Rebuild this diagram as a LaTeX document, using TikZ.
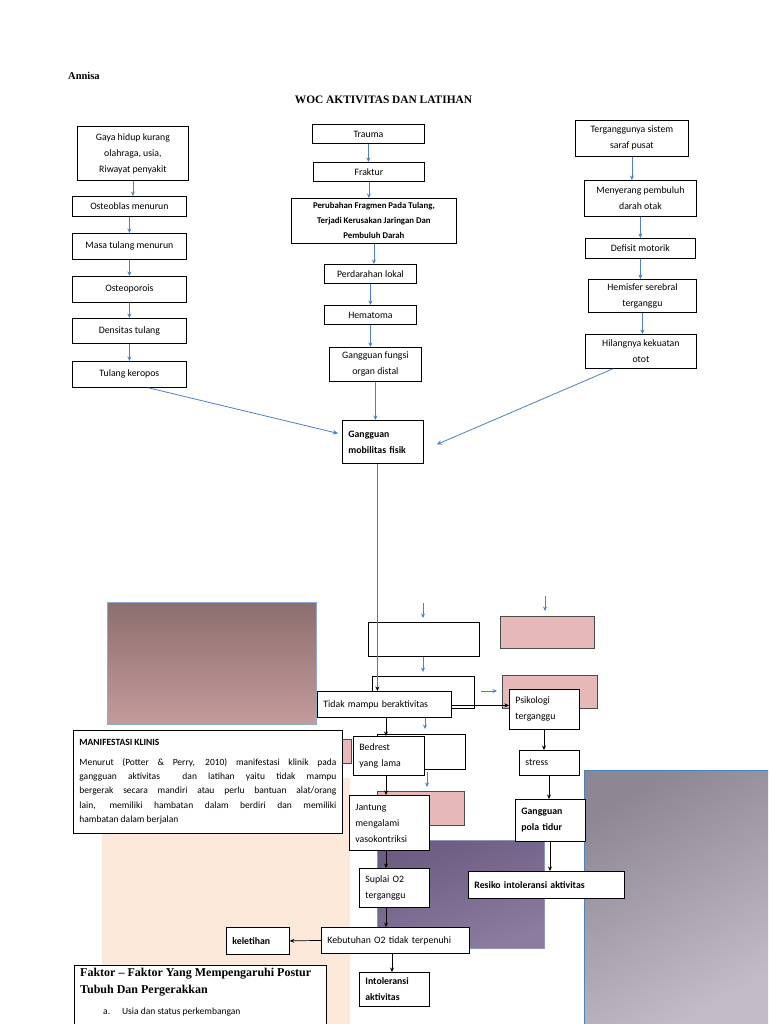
\documentclass[tikz,border=0pt]{standalone}
\usepackage{fontspec}
\setmainfont{Carlito}
\newfontfamily\tnr{Liberation Serif}
\usetikzlibrary{arrows.meta}
\definecolor{arrblue}{HTML}{4F81BD}
\definecolor{pinkf}{HTML}{E6B9B8}
\definecolor{peach}{HTML}{FDE9DA}
\definecolor{brownT}{HTML}{8C6E6E}
\definecolor{brownB}{HTML}{C49B9B}
\definecolor{purpT}{HTML}{6C5B82}
\definecolor{purpB}{HTML}{8C7C9F}
\definecolor{grayT}{HTML}{8C8793}
\definecolor{grayB}{HTML}{C2BCC8}
\definecolor{edgeblue}{HTML}{8EA9CF}
\newcommand\wboxC[7][]{%
  \pgfmathsetmacro\wbw{#5-#3}\pgfmathsetmacro\wbh{#6-#4}%
  \node[boxs, anchor=north west, minimum width=\wbw pt, minimum height=\wbh pt, align=center, #1] (#2) at (#3,#4) {#7};}
\newcommand\wboxL[7][]{%
  \pgfmathsetmacro\wbw{#5-#3}\pgfmathsetmacro\wbh{#6-#4}\pgfmathsetmacro\wbt{#5-#3-12}%
  \node[boxs, anchor=north west, minimum width=\wbw pt, minimum height=\wbh pt, text width=\wbt pt, inner xsep=6pt, align=left, #1] (#2) at (#3,#4) {#7};}
\begin{document}
\begin{tikzpicture}[x=1pt,y=-1pt,
  boxs/.style={draw=black, line width=0.8pt, fill=white, inner sep=1pt, font=\fontsize{9.8}{16}\selectfont},
  boldtxt/.style={font=\fontsize{9.8}{16}\selectfont\bfseries},
  pinkbox/.style={draw=black!70, line width=0.7pt, fill=pinkf},
  barr/.style={draw=arrblue, line width=0.8pt, -{Stealth[length=4.5pt,width=4pt]}},
  karr/.style={draw=black, line width=0.7pt, -{Stealth[length=4.5pt,width=4pt]}},
  garr/.style={draw=black!55, line width=0.8pt, -{Stealth[length=4.5pt,width=4pt,color=black]}}]
\useasboundingbox (0,0) rectangle (768,1024);
\clip (0,0) rectangle (768,1024);
\fill[white] (0,0) rectangle (768,1024);

% header
\node[anchor=west, inner sep=0, font=\tnr\fontsize{10.5}{12}\selectfont\bfseries] (author) at (68,76) {Annisa};
\node[inner sep=0, font=\tnr\fontsize{11.4}{13}\selectfont\bfseries] (title) at (383.5,100) {WOC AKTIVITAS DAN LATIHAN};

% background shapes
\fill[peach] (102,778) rectangle (350,1024);
\shade[top color=brownT, bottom color=brownB, draw=edgeblue, line width=0.6pt] (107,602) rectangle (316,724);
\shade[top color=purpT, bottom color=purpB, shading angle=20, draw=edgeblue!60!purpB, line width=0.6pt] (377,840) rectangle (544,948);
\shade[top color=grayT, bottom color=grayB, shading angle=30] (584,770) rectangle (768,1024);
\draw[arrblue, line width=1pt] (584,1024) -- (584,770) -- (768,770);

% left column
\wboxC{gaya}{77}{126}{188}{180}{Gaya hidup kurang\\olahraga, usia,\\Riwayat penyakit}
\wboxC{osteo}{72}{196}{186}{216}{Osteoblas menurun}
\wboxC{masa}{72}{233}{186}{259}{Masa tulang menurun}
\wboxC{osteop}{72}{276}{186}{302}{Osteoporois}
\wboxC{dens}{72}{318}{186}{343}{Densitas tulang}
\wboxC{kerop}{72}{361}{186}{387}{Tulang keropos}

% middle column
\wboxC{trauma}{312}{124}{424}{143}{Trauma}
\wboxC{fraktur}{313}{162}{424}{181}{Fraktur}
\wboxC[font=\fontsize{8.8}{15}\selectfont\bfseries]{perub}{291}{198}{456}{243}{Perubahan Fragmen Pada Tulang,\\Terjadi Kerusakan Jaringan Dan\\Pembuluh Darah}
\wboxC{perd}{324}{264}{416}{283}{Perdarahan lokal}
\wboxC{hema}{324}{305}{416}{324}{Hematoma}
\wboxC{gfungsi}{329}{347}{421}{381}{Gangguan fungsi\\organ distal}
\wboxL[boldtxt, inner xsep=5pt]{mobil}{342}{420}{423}{463}{Gangguan\\mobilitas fisik}

% right column
\wboxC{terg}{575}{120}{688}{156}{Terganggunya sistem\\saraf pusat}
\wboxC{meny}{584}{180}{696}{216}{Menyerang pembuluh\\darah otak}
\wboxC{def}{585}{238}{695}{258}{Defisit motorik}
\wboxC{hemi}{588}{279}{696}{312}{Hemisfer serebral\\terganggu}
\wboxC{hil}{585}{334}{696}{368}{Hilangnya kekuatan\\otot}

% blue arrows upper part
\foreach \a/\b in {gaya/osteo, osteo/masa, masa/osteop, osteop/dens, dens/kerop,
                   trauma/fraktur, fraktur/perub, perub/perd, perd/hema, hema/gfungsi, gfungsi/mobil,
                   terg/meny, meny/def, def/hemi, hemi/hil}
  \draw[barr] (\a.south) -- (\a.south |- \b.north);
\draw[draw=arrblue, line width=0.8pt, -{Stealth[length=5pt,width=4.5pt]}] ([xshift=19pt]kerop.south) -- ([xshift=-4pt,yshift=8.5pt]mobil.west);
\draw[draw=arrblue, line width=0.8pt, -{Stealth[length=5pt,width=4.5pt]}] ([xshift=-28pt]hil.south) -- ([xshift=13pt,yshift=-2.5pt]mobil.east);

% decorative pink / empty boxes
\wboxC[pinkbox]{pk1}{500}{616}{594}{648}{}
\wboxC[pinkbox]{pk2}{502}{675}{597}{708}{}
\wboxC[pinkbox]{pk3}{300}{739}{351}{763}{}
\wboxC[pinkbox]{pk4}{377}{791}{464}{825}{}
\wboxC{em1}{368}{622}{479}{656}{}
\wboxC{em2}{372}{676}{474}{708}{}
\wboxC{em3}{377}{734}{465}{769}{}

% free blue arrows
\coordinate (f1s) at (423,603); \coordinate (f1e) at (423,618);
\coordinate (f2s) at (545,596); \coordinate (f2e) at (545,611);
\coordinate (f3s) at (423,657); \coordinate (f3e) at (423,672);
\coordinate (f4s) at (481,691); \coordinate (f4e) at (497,691);
\coordinate (f5s) at (425,718); \coordinate (f5e) at (425,729);
\coordinate (f6s) at (427,772); \coordinate (f6e) at (427,787);
\foreach \i in {1,...,6} \draw[barr] (f\i s) -- (f\i e);

% lower text boxes
\wboxL{tidak}{317}{691}{451}{717}{Tidak mampu beraktivitas}
\wboxL[inner xsep=5pt]{psik}{509}{689}{579}{729}{Psikologi\\terganggu}
\wboxL[inner xsep=5pt]{bedrest}{353}{736}{424}{775}{Bedrest\\yang lama}
\wboxL[inner xsep=5pt]{jantung}{349}{795}{429}{850}{Jantung\\mengalami\\vasokontriksi}
\wboxL[inner xsep=5pt]{suplai}{359}{868}{429}{907}{Suplai O2\\terganggu}
\wboxL{kebut}{321}{927}{469}{953}{Kebutuhan O2 tidak terpenuhi}
\wboxL[boldtxt, inner xsep=5pt]{keletihan}{226}{927}{289}{954}{keletihan}
\wboxL[boldtxt, inner xsep=5pt]{intol}{359}{972}{429}{1006}{Intoleransi\\aktivitas}
\wboxL[inner xsep=5pt]{stress}{519}{750}{579}{775}{stress}
\wboxL[boldtxt, inner xsep=5pt]{gpola}{515}{799}{585}{841}{Gangguan\\pola tidur}
\wboxL[boldtxt, inner xsep=6pt]{resiko}{468}{871}{624}{898}{Resiko intoleransi aktivitas}

% manifestasi klinis
\wboxL[inner xsep=3pt, font=\fontsize{9.5}{14.3}\selectfont, align=justify]{manif}{73}{730}{342}{833}{%
\textbf{MANIFESTASI KLINIS}\\[5pt]
Menurut (Potter \& Perry, 2010) manifestasi klinik pada\linebreak
gangguan aktivitas\ \ dan latihan yaitu tidak mampu\linebreak
bergerak secara mandiri atau perlu bantuan alat/orang\linebreak
lain, memiliki hambatan dalam berdiri dan memiliki\linebreak
hambatan dalam berjalan}

% faktor box
\wboxC{faktor}{74}{965}{326}{1060}{}
\node[anchor=north west, inner sep=0, align=left, font=\tnr\fontsize{12}{17}\selectfont\bfseries] (faktort) at ([shift={(6,3)}]faktor.north west) {Faktor – Faktor Yang Mempengaruhi Postur\\Tubuh Dan Pergerakkan};
\node[anchor=north west, inner sep=0, font=\fontsize{9.5}{12}\selectfont] (faktora) at ([shift={(29,43)}]faktor.north west) {a.\hspace{12pt}Usia dan status perkembangan};

% long gray connector
\draw[garr] ([xshift=-5.5pt]mobil.south) -- ([xshift=-5.5pt]mobil.south |- tidak.north);

% black connectors
\draw[karr] (tidak.south -| 386,0) -- (bedrest.north -| 386,0);
\draw[karr] (bedrest.south -| 386,0) -- (jantung.north -| 386,0);
\draw[karr] (jantung.south -| 386,0) -- (suplai.north -| 386,0);
\draw[karr] (suplai.south -| 386,0) -- (kebut.north -| 386,0);
\draw[karr] (kebut.south -| 392,0) -- (intol.north -| 392,0);
\draw[karr] (kebut.west) -- (keletihan.east);
\draw[karr] ([yshift=-1pt]tidak.east) -- ([yshift=-1pt]tidak.east -| psik.west);
\draw[karr] (psik.south -| 544,0) -- (stress.north -| 544,0);
\draw[karr] (stress.south -| 549,0) -- (gpola.north -| 549,0);
\draw[karr] (gpola.south -| 550,0) -- (resiko.north -| 550,0);
\end{tikzpicture}
\end{document}
